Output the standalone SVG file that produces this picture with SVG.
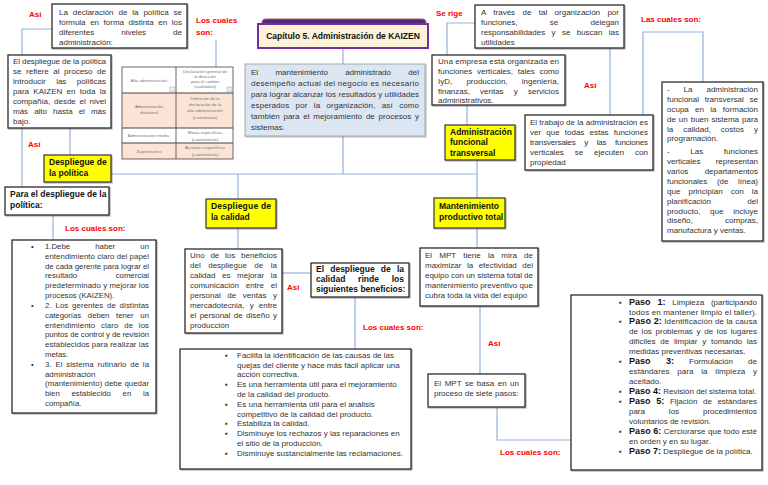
<svg xmlns="http://www.w3.org/2000/svg" width="768" height="485" viewBox="0 0 768 485">
<defs>
<filter id="sh" x="-5%" y="-5%" width="115%" height="115%"><feDropShadow dx="1" dy="1" stdDeviation="0.7" flood-color="#000" flood-opacity="0.3"/></filter>
<style>
.box{fill:#fff;stroke:#2b2b2b;stroke-width:1.3;filter:url(#sh)}
.yel{fill:#ffff00;stroke:#333;stroke-width:1.2;filter:url(#sh)}
text{font-family:"Liberation Sans",Arial,sans-serif}
.t{font-size:8px;fill:#333}
.s{font-size:8px;fill:#333}
.l{font-size:7.8px;fill:#333}
.b{font-size:8.5px;font-weight:bold;fill:#111}
.r{font-size:8px;font-weight:bold;fill:#ff0000}
.tb{font-size:4.3px;fill:#777;text-anchor:middle}
.p{font-size:9px;font-weight:bold;fill:#111}
.conn path{fill:none;stroke:#95b3d7;stroke-width:1.2}
</style>
</defs>
<rect width="768" height="485" fill="#fff"/>

<g class="conn">
<path d="M52,29 H22 V55"/>
<path d="M216,40 V67"/>
<path d="M22,128 V187"/>
<path d="M70,128 V155"/>
<path d="M111,174 H477"/>
<path d="M343,136 V174"/>
<path d="M238,174 V199"/>
<path d="M238,228 V249"/>
<path d="M282,273 H311"/>
<path d="M355,297 V349"/>
<path d="M53,215 V240"/>
<path d="M343,48 V64"/>
<path d="M475,23 H447 V55"/>
<path d="M467,105 V125"/>
<path d="M610,48 V115"/>
<path d="M643,115 V32 H703 V82"/>
<path d="M477,160 V198"/>
<path d="M477,228 V248"/>
<path d="M480,306 V374"/>
<path d="M497,407 V440 H571"/>
</g>

<g id="labels">
<text class="r" x="29" y="17">Así</text>
<text class="r" x="196" y="23">Los cuales</text>
<text class="r" x="196" y="35">son:</text>
<text class="r" x="28" y="147">Así</text>
<text class="r" x="65" y="231">Los cuales son:</text>
<text class="r" x="287" y="290">Así</text>
<text class="r" x="363" y="330">Los cuales son:</text>
<text class="r" x="436" y="16">Se rige</text>
<text class="r" x="584" y="88">Así</text>
<text class="r" x="641" y="22">Las cuales son:</text>
<text class="r" x="488" y="346">Así</text>
<text class="r" x="500" y="455">Los cuales son:</text>
</g>

<g id="n-title">
<rect x="262" y="19" width="164" height="14" rx="4" fill="#4b2d7f" stroke="#c0504d" stroke-width="1.2"/>
<rect x="258" y="24" width="170" height="24" fill="#fdf2d9" stroke="#7030a0" stroke-width="2"/>
<text class="b" x="343" y="39" text-anchor="middle">Capítulo 5.  Administración de KAIZEN</text>
</g>

<g id="n-intro">
<rect x="245" y="64" width="180" height="72" fill="#dce6f2" stroke="#a6a6a6" stroke-width="1" filter="url(#sh)"/>
<g class="t">
<text x="251" y="75" word-spacing="15.1" textLength="168" lengthAdjust="spacing">El mantenimiento administrado del</text>
<text x="251" y="86" textLength="168" lengthAdjust="spacing">desempeño actual del negocio es necesario</text>
<text x="251" y="97" textLength="168" lengthAdjust="spacing">para lograr alcanzar los resultados y utilidades</text>
<text x="251" y="108" word-spacing="4" textLength="168" lengthAdjust="spacing">esperados por la organización, así como</text>
<text x="251" y="119" word-spacing="1.5" textLength="168" lengthAdjust="spacing">también para el mejoramiento de procesos y</text>
<text x="251" y="130">sistemas.</text>
</g>
</g>

<g id="n-a1">
<rect class="box" x="52" y="4" width="135" height="44"/>
<g class="t">
<text x="59" y="15" word-spacing="2.7" textLength="123" lengthAdjust="spacing">La declaración de la política se</text>
<text x="59" y="25" word-spacing="2.4" textLength="123" lengthAdjust="spacing">formula en forma distinta en los</text>
<text x="59" y="35" word-spacing="24.8" textLength="123" lengthAdjust="spacing">diferentes niveles de</text>
<text x="59" y="45">administración:</text>
</g>
</g>

<g id="n-a2">
<rect class="box" x="8" y="55" width="103" height="73"/>
<g class="t">
<text x="13" y="64" textLength="93" lengthAdjust="spacing">El despliegue de la política</text>
<text x="13" y="74" word-spacing="2.3" textLength="93" lengthAdjust="spacing">se refiere al proceso de</text>
<text x="13" y="84" word-spacing="8.3" textLength="93" lengthAdjust="spacing">introducir las políticas</text>
<text x="13" y="94" word-spacing="2.1" textLength="93" lengthAdjust="spacing">para KAIZEN en toda la</text>
<text x="13" y="104" word-spacing="1.6" textLength="93" lengthAdjust="spacing">compañía, desde el nivel</text>
<text x="13" y="114" word-spacing="3.8" textLength="93" lengthAdjust="spacing">más alto hasta el más</text>
<text x="13" y="124">bajo.</text>
</g>
</g>

<g id="n-table">
<rect x="122" y="67" width="111" height="26" fill="#fff"/>
<rect x="122" y="93" width="111" height="35" fill="#fbe4d5"/>
<rect x="122" y="128" width="111" height="15" fill="#fff"/>
<rect x="122" y="143" width="111" height="16" fill="#fbe4d5"/>
<g stroke="#444" fill="none">
<rect x="122" y="67" width="111" height="92" stroke-width="0.8"/>
<path d="M122,93 H233 M122,128 H233 M122,143 H233" stroke-width="1.2"/>
<path d="M176,67 V159" stroke-width="0.8"/>
</g>
<rect x="170" y="87" width="5" height="5" fill="#eee" stroke="#999" stroke-width="0.4"/>
<rect x="227" y="87" width="5" height="5" fill="#eee" stroke="#999" stroke-width="0.4"/>
<text class="tb" x="149" y="82">Alta administración</text>
<text class="tb" x="205" y="73">Declaración general de</text>
<text class="tb" x="205" y="78">la dirección</text>
<text class="tb" x="205" y="83">para el cambio</text>
<text class="tb" x="205" y="88">(cualitativa)</text>
<text class="tb" x="149" y="108">Administración</text>
<text class="tb" x="149" y="114">divisional</text>
<text class="tb" x="205" y="100">Definición de la</text>
<text class="tb" x="205" y="106">declaración de la</text>
<text class="tb" x="205" y="112">alta administración</text>
<text class="tb" x="205" y="119">(cuantitativa)</text>
<text class="tb" x="149" y="137">Administración media:</text>
<text class="tb" x="205" y="134">Metas específicas</text>
<text class="tb" x="205" y="141">(cuantitativas)</text>
<text class="tb" x="149" y="153">Supervisores</text>
<text class="tb" x="205" y="149">Acciones específicas</text>
<text class="tb" x="205" y="156">(cuantitativas)</text>
</g>

<g id="n-dpol">
<rect class="yel" x="44" y="155" width="67" height="27"/>
<text class="b" x="49" y="165">Despliegue de</text>
<text class="b" x="49" y="176">la política</text>
</g>

<g id="n-para">
<rect class="box" x="5" y="187" width="104" height="28"/>
<text class="b" x="10" y="197">Para el despliegue de la</text>
<text class="b" x="10" y="208">política:</text>
</g>

<g id="n-list1">
<rect class="box" x="12" y="240" width="144" height="173"/>
<g class="l">
<text x="31" y="249">•</text>
<text x="31" y="308">•</text>
<text x="31" y="367">•</text>
<text x="45" y="249" word-spacing="23" textLength="104" lengthAdjust="spacing">1.Debe haber un</text>
<text x="45" y="259" textLength="104" lengthAdjust="spacing">entendimiento claro del papel</text>
<text x="45" y="269" textLength="104" lengthAdjust="spacing">de cada gerente para lograr el</text>
<text x="45" y="278" word-spacing="36.4" textLength="104" lengthAdjust="spacing">resultado comercial</text>
<text x="45" y="288" textLength="104" lengthAdjust="spacing">predeterminado y mejorar los</text>
<text x="45" y="298">procesos (KAIZEN).</text>
<text x="45" y="308" word-spacing="1.5" textLength="104" lengthAdjust="spacing">2. Los gerentes de distintas</text>
<text x="45" y="318" word-spacing="4.5" textLength="104" lengthAdjust="spacing">categorías deben tener un</text>
<text x="45" y="328" word-spacing="3.5" textLength="104" lengthAdjust="spacing">entendimiento claro de los</text>
<text x="45" y="337" textLength="104" lengthAdjust="spacing">puntos de control y de revisión</text>
<text x="45" y="347" textLength="104" lengthAdjust="spacing">establecidos para realizar las</text>
<text x="45" y="357">metas.</text>
<text x="45" y="367" word-spacing="1.5" textLength="104" lengthAdjust="spacing">3. El sistema rutinario de la</text>
<text x="45" y="377">administración</text>
<text x="45" y="386" textLength="104" lengthAdjust="spacing">(mantenimiento) debe quedar</text>
<text x="45" y="396" word-spacing="9.5" textLength="104" lengthAdjust="spacing">bien establecido en la</text>
<text x="45" y="406">compañía.</text>
</g>
</g>

<g id="n-dcal">
<rect class="yel" x="206" y="199" width="70" height="29"/>
<text class="b" x="211" y="209" textLength="60" lengthAdjust="spacing">Despliegue de</text>
<text class="b" x="211" y="220">la calidad</text>
</g>

<g id="n-uno">
<rect class="box" x="185" y="249" width="97" height="84"/>
<g class="s">
<text x="190" y="258" word-spacing="3.5" textLength="87" lengthAdjust="spacing">Uno de los beneficios</text>
<text x="190" y="268" word-spacing="5.3" textLength="87" lengthAdjust="spacing">del despliegue de la</text>
<text x="190" y="278" word-spacing="4.4" textLength="87" lengthAdjust="spacing">calidad es mejorar la</text>
<text x="190" y="288" word-spacing="4.6" textLength="87" lengthAdjust="spacing">comunicación entre el</text>
<text x="190" y="298" word-spacing="4.4" textLength="87" lengthAdjust="spacing">personal de ventas y</text>
<text x="190" y="308" word-spacing="3" textLength="87" lengthAdjust="spacing">mercadotecnia, y entre</text>
<text x="190" y="318" word-spacing="1.2" textLength="87" lengthAdjust="spacing">el personal de diseño y</text>
<text x="190" y="328">producción</text>
</g>
</g>

<g id="n-rinde">
<rect class="box" x="311" y="263" width="98" height="34"/>
<text class="b" x="316" y="272" word-spacing="3.8" textLength="88" lengthAdjust="spacing">El despliegue de la</text>
<text class="b" x="316" y="282" word-spacing="10.4" textLength="88" lengthAdjust="spacing">calidad rinde los</text>
<text class="b" x="316" y="292">siguientes beneficios:</text>
</g>

<g id="n-list2">
<rect class="box" x="180" y="349" width="231" height="120"/>
<g class="s">
<text x="225" y="358">▪</text>
<text x="225" y="387">▪</text>
<text x="225" y="407">▪</text>
<text x="225" y="426">▪</text>
<text x="225" y="436">▪</text>
<text x="225" y="456">▪</text>
<text x="237" y="358">Facilita la identificación de las causas de las</text>
<text x="237" y="368">quejas del cliente y hace más fácil aplicar una</text>
<text x="237" y="377">acción correctiva.</text>
<text x="237" y="387">Es una herramienta útil para el mejoramiento</text>
<text x="237" y="397">de la calidad del producto.</text>
<text x="237" y="407">Es una herramienta útil para el análisis</text>
<text x="237" y="417">competitivo de la calidad del producto.</text>
<text x="237" y="426">Estabiliza la calidad.</text>
<text x="237" y="436">Disminuye los rechazos y las reparaciones en</text>
<text x="237" y="446">el sitio de la producción.</text>
<text x="237" y="456">Disminuye sustancialmente las reclamaciones.</text>
</g>
</g>

<g id="n-b1">
<rect class="box" x="475" y="5" width="149" height="43"/>
<g class="t">
<text x="481" y="15" word-spacing="5.1" textLength="138" lengthAdjust="spacing">A través de tal organización por</text>
<text x="481" y="25" word-spacing="30.1" textLength="138" lengthAdjust="spacing">funciones, se delegan</text>
<text x="481" y="35" word-spacing="4.2" textLength="138" lengthAdjust="spacing">responsabilidades y se buscan las</text>
<text x="481" y="45">utilidades</text>
</g>
</g>

<g id="n-b2">
<rect class="box" x="432" y="55" width="133" height="50"/>
<g class="t">
<text x="438" y="64" textLength="121" lengthAdjust="spacing">Una empresa está organizada en</text>
<text x="438" y="74" word-spacing="2.5" textLength="121" lengthAdjust="spacing">funciones verticales, tales como</text>
<text x="438" y="84" word-spacing="12" textLength="121" lengthAdjust="spacing">IyD, producción, ingeniería,</text>
<text x="438" y="94" word-spacing="8" textLength="121" lengthAdjust="spacing">finanzas, ventas y servicios</text>
<text x="438" y="103">administrativos.</text>
</g>
</g>

<g id="n-adf">
<rect class="yel" x="445" y="125" width="70" height="35"/>
<text class="b" x="450" y="135">Administración</text>
<text class="b" x="450" y="145">funcional</text>
<text class="b" x="450" y="156">transversal</text>
</g>

<g id="n-b3">
<rect class="box" x="525" y="115" width="128" height="55"/>
<g class="t">
<text x="530" y="125" textLength="118" lengthAdjust="spacing">El trabajo de la administración es</text>
<text x="530" y="135" word-spacing="2.9" textLength="118" lengthAdjust="spacing">ver que todas estas funciones</text>
<text x="530" y="145" word-spacing="6.6" textLength="118" lengthAdjust="spacing">transversales y las funciones</text>
<text x="530" y="155" word-spacing="8.6" textLength="118" lengthAdjust="spacing">verticales se ejecuten con</text>
<text x="530" y="165">propiedad</text>
</g>
</g>

<g id="n-b4">
<rect class="box" x="662" y="82" width="101" height="159"/>
<g class="s">
<text x="667" y="92" word-spacing="11.7" textLength="91" lengthAdjust="spacing">- La administración</text>
<text x="667" y="102" word-spacing="3.5" textLength="91" lengthAdjust="spacing">funcional transversal se</text>
<text x="667" y="112" word-spacing="4.1" textLength="91" lengthAdjust="spacing">ocupa en la formación</text>
<text x="667" y="122" word-spacing="0.7" textLength="91" lengthAdjust="spacing">de un buen sistema para</text>
<text x="667" y="132" word-spacing="7.8" textLength="91" lengthAdjust="spacing">la calidad, costos y</text>
<text x="667" y="141">programación.</text>
<text x="667" y="154" word-spacing="18.4" textLength="91" lengthAdjust="spacing">- Las funciones</text>
<text x="667" y="164" word-spacing="13.2" textLength="91" lengthAdjust="spacing">verticales representan</text>
<text x="667" y="174" word-spacing="14.1" textLength="91" lengthAdjust="spacing">varios departamentos</text>
<text x="667" y="184" word-spacing="7.5" textLength="91" lengthAdjust="spacing">funcionales (de línea)</text>
<text x="667" y="194" word-spacing="5.9" textLength="91" lengthAdjust="spacing">que principian con la</text>
<text x="667" y="204" word-spacing="34.1" textLength="91" lengthAdjust="spacing">planificación del</text>
<text x="667" y="214" word-spacing="7.5" textLength="91" lengthAdjust="spacing">producto, que incluye</text>
<text x="667" y="223" word-spacing="30.1" textLength="91" lengthAdjust="spacing">diseño, compras,</text>
<text x="667" y="233">manufactura y ventas.</text>
</g>
</g>

<g id="n-mpt">
<rect class="yel" x="434" y="198" width="71" height="30"/>
<text class="b" x="439" y="209">Mantenimiento</text>
<text class="b" x="439" y="220">productivo total</text>
</g>

<g id="n-c1">
<rect class="box" x="420" y="248" width="118" height="58"/>
<g class="s">
<text x="425" y="258" word-spacing="5" textLength="108" lengthAdjust="spacing">El MPT tiene la mira de</text>
<text x="425" y="268" word-spacing="3.4" textLength="108" lengthAdjust="spacing">maximizar la efectividad del</text>
<text x="425" y="278" textLength="108" lengthAdjust="spacing">equipo con un sistema total de</text>
<text x="425" y="288" textLength="108" lengthAdjust="spacing">mantenimiento preventivo que</text>
<text x="425" y="298">cubra toda la vida del equipo</text>
</g>
</g>

<g id="n-c2">
<rect class="box" x="428" y="374" width="97" height="33"/>
<text class="s" x="434" y="386" word-spacing="1.3" textLength="85" lengthAdjust="spacing">El MPT se basa en un</text>
<text class="s" x="434" y="396">proceso de siete pasos:</text>
</g>

<g id="n-c3">
<rect class="box" x="571" y="295" width="191" height="175"/>
<g class="s">
<text x="619" y="305">▪</text>
<text x="619" y="324">▪</text>
<text x="619" y="364">▪</text>
<text x="619" y="394">▪</text>
<text x="619" y="404">▪</text>
<text x="619" y="434">▪</text>
<text x="619" y="454">▪</text>
<text x="629" y="305" word-spacing="4.6" textLength="128" lengthAdjust="spacing"><tspan class="p">Paso 1:</tspan> Limpieza (participando</text>
<text x="629" y="315" textLength="128" lengthAdjust="spacing">todos en mantener limpio el taller).</text>
<text x="629" y="324" textLength="128" lengthAdjust="spacing"><tspan class="p">Paso 2:</tspan> Identificación de la causa</text>
<text x="629" y="334" word-spacing="1.5" textLength="128" lengthAdjust="spacing">de los problemas y de los lugares</text>
<text x="629" y="344" word-spacing="2.6" textLength="128" lengthAdjust="spacing">difíciles de limpiar y tomando las</text>
<text x="629" y="354">medidas preventivas necesarias.</text>
<text x="629" y="364" word-spacing="12.9" textLength="128" lengthAdjust="spacing"><tspan class="p">Paso 3:</tspan> Formulación de</text>
<text x="629" y="374" word-spacing="5.3" textLength="128" lengthAdjust="spacing">estándares para la limpieza y</text>
<text x="629" y="384">aceitado.</text>
<text x="629" y="394"><tspan class="p">Paso 4:</tspan> Revisión del sistema total.</text>
<text x="629" y="404" word-spacing="3.3" textLength="128" lengthAdjust="spacing"><tspan class="p">Paso 5:</tspan> Fijación de estándares</text>
<text x="629" y="414" word-spacing="21.7" textLength="128" lengthAdjust="spacing">para los procedimientos</text>
<text x="629" y="424">voluntarios de revisión.</text>
<text x="629" y="434" textLength="128" lengthAdjust="spacing"><tspan class="p">Paso 6:</tspan> Cerciorarse que todo esté</text>
<text x="629" y="444">en orden y en su lugar.</text>
<text x="629" y="454"><tspan class="p">Paso 7:</tspan> Despliegue de la política.</text>
</g>
</g>
</svg>
